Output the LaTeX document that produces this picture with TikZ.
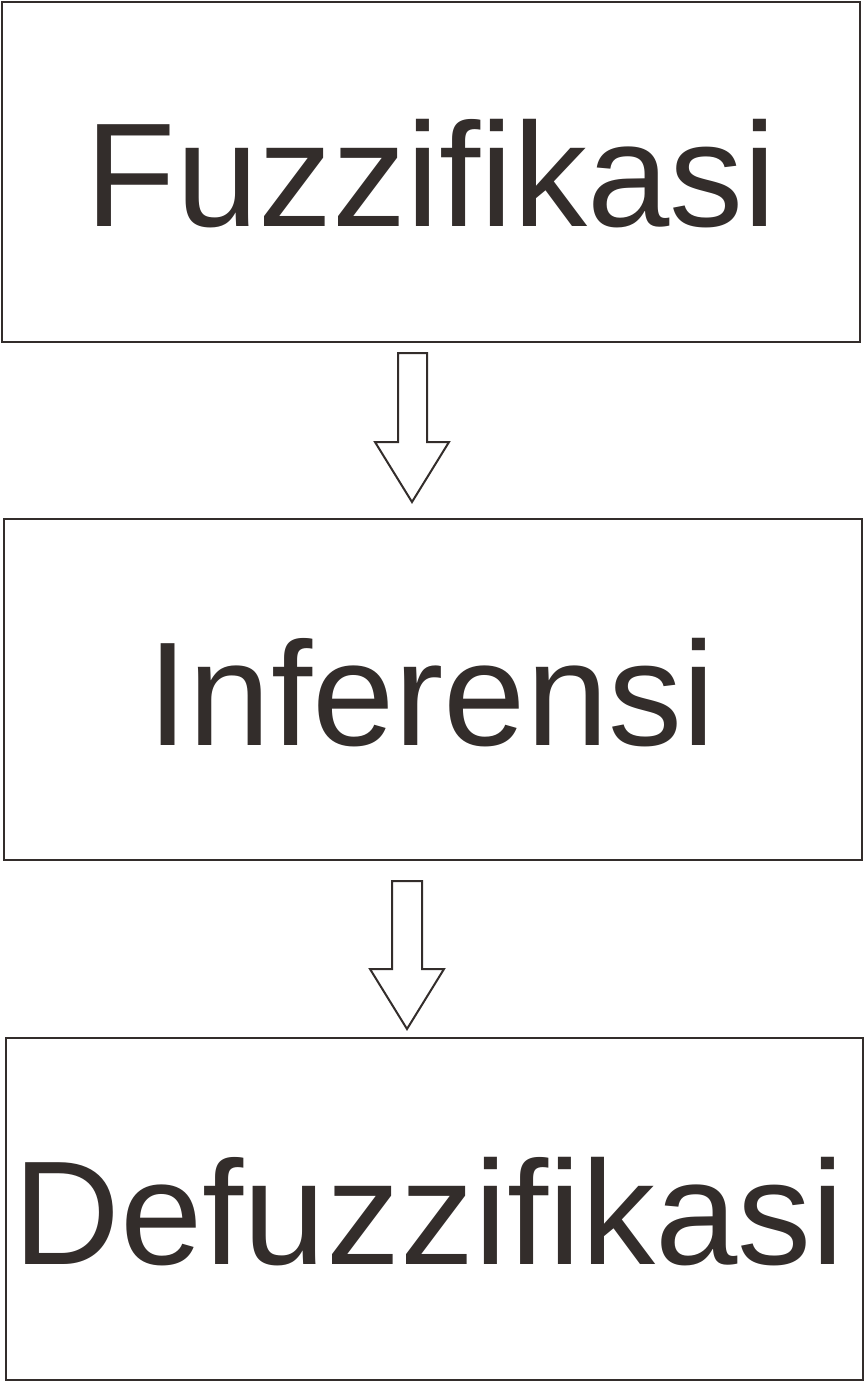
\documentclass[tikz,border=0pt]{standalone}
\usepackage{fontspec}
\setmainfont{Liberation Sans}
\definecolor{ink}{HTML}{332D2B}
\begin{document}
\begin{tikzpicture}[x=1pt,y=-1pt,
  box/.style={draw=ink,line width=2pt},
  lbl/.style={anchor=base,inner sep=0pt,text=ink,font=\fontsize{148}{150}\selectfont},
  hollow/.style={draw=ink,line width=2pt,fill=white,line join=miter}]
\useasboundingbox (0,0) rectangle (866,1382);
\draw[box] (2,2) coordinate (b1nw) rectangle (860,342) coordinate (b1se);
\draw[box] (4,519) rectangle (862,860);
\draw[box] (6,1038) rectangle (863,1380);
\node[lbl] (t1) at (431,226) {Fuzzifikasi};
\node[lbl] (t2) at (431.5,745) {Inferensi};
\node[lbl] (t3) at (429,1264) {Defuzzifikasi};
% arrow 1
\coordinate (a1) at (412,502);
\draw[hollow] (398,353) -- (427,353) -- (427,442) -- (449,442) -- (a1) -- (375,442) -- (398,442) -- cycle;
% arrow 2
\coordinate (a2) at (407,1029);
\draw[hollow] (392,881) -- (422,881) -- (422,969) -- (444,969) -- (a2) -- (370,969) -- (392,969) -- cycle;
\end{tikzpicture}
\end{document}
